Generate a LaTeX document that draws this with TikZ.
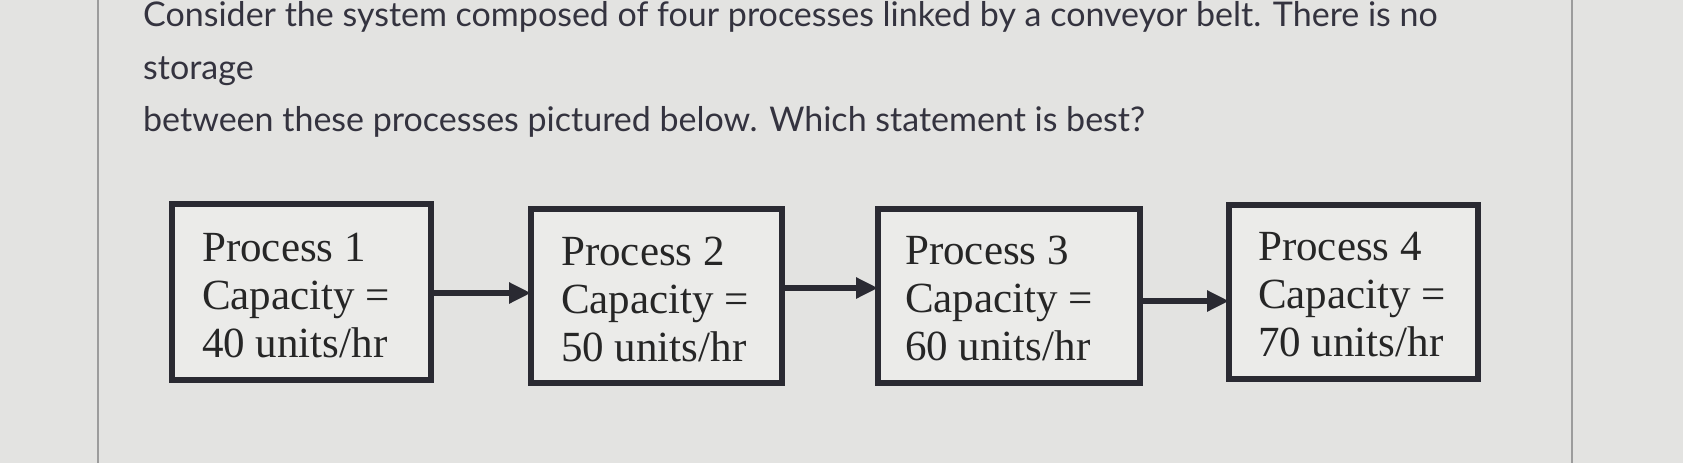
\documentclass[tikz,border=0pt]{standalone}
\usepackage{fontspec}
\newfontfamily\lato{Lato}
\newfontfamily\tnr{Liberation Serif}
\usetikzlibrary{arrows.meta,calc}
\definecolor{bgc}{HTML}{E3E3E1}
\definecolor{boxfill}{HTML}{EBEBE9}
\definecolor{boxline}{HTML}{2A2A32}
\definecolor{headc}{HTML}{34333F}
\definecolor{txtc}{HTML}{262626}
\definecolor{rulec}{HTML}{9C9C9C}
\tikzset{
  pbox/.style={draw=boxline, fill=boxfill, line width=6pt, rectangle, inner sep=0pt, outer sep=0pt},
  ptext/.style={text=txtc, font=\tnr\fontsize{43}{48}\selectfont, align=left, inner sep=0pt, anchor=north west},
  head/.style={text=headc, font=\lato\fontsize{34}{52}\selectfont, inner sep=0pt, anchor=base west},
  flow/.style={draw=boxline, line width=6pt, -{Triangle[length=22pt,width=20pt]}},
  panelrule/.style={draw=rulec, line width=2pt}
}
\begin{document}
\begin{tikzpicture}[x=1pt,y=-1pt]
\useasboundingbox (0,0) rectangle (1683,463);
\fill[bgc] (0,0) rectangle (1683,463);
\coordinate (rl) at (98,0);
\coordinate (rr) at (1572,0);
\draw[panelrule] (rl) -- (rl |- 0,463);
\draw[panelrule] (rr) -- (rr |- 0,463);
% heading
\node[head] (h1) at (143,27) {Consider the system composed of four processes linked by a conveyor belt. There is no};
\node[head] (h2) at (143,79) {storage};
\node[head] (h3) at (143,131) {between these processes pictured below. Which statement is best?};
% boxes
\node[pbox, minimum width=259pt, minimum height=176pt] (b1) at (301.5,292) {};
\node[pbox, minimum width=251pt, minimum height=174pt] (b2) at (656.5,296) {};
\node[pbox, minimum width=262pt, minimum height=174pt] (b3) at (1009,296) {};
\node[pbox, minimum width=249pt, minimum height=174pt] (b4) at (1353.5,292) {};
% texts
\node[ptext] (t1) at (202,233) {Process 1\\Capacity =\\40 units/hr};
\node[ptext] (t2) at (561,237) {Process 2\\Capacity =\\50 units/hr};
\node[ptext] (t3) at (905,236) {Process 3\\Capacity =\\60 units/hr};
\node[ptext] (t4) at (1258,232) {Process 4\\Capacity =\\70 units/hr};
% arrows
\draw[flow] (b1.east |- 0,293) -- (b2.west |- 0,293);
\draw[flow] (b2.east |- 0,288) -- (b3.west |- 0,288);
\draw[flow] (b3.east |- 0,301) -- (b4.west |- 0,301);
\end{tikzpicture}
\end{document}
